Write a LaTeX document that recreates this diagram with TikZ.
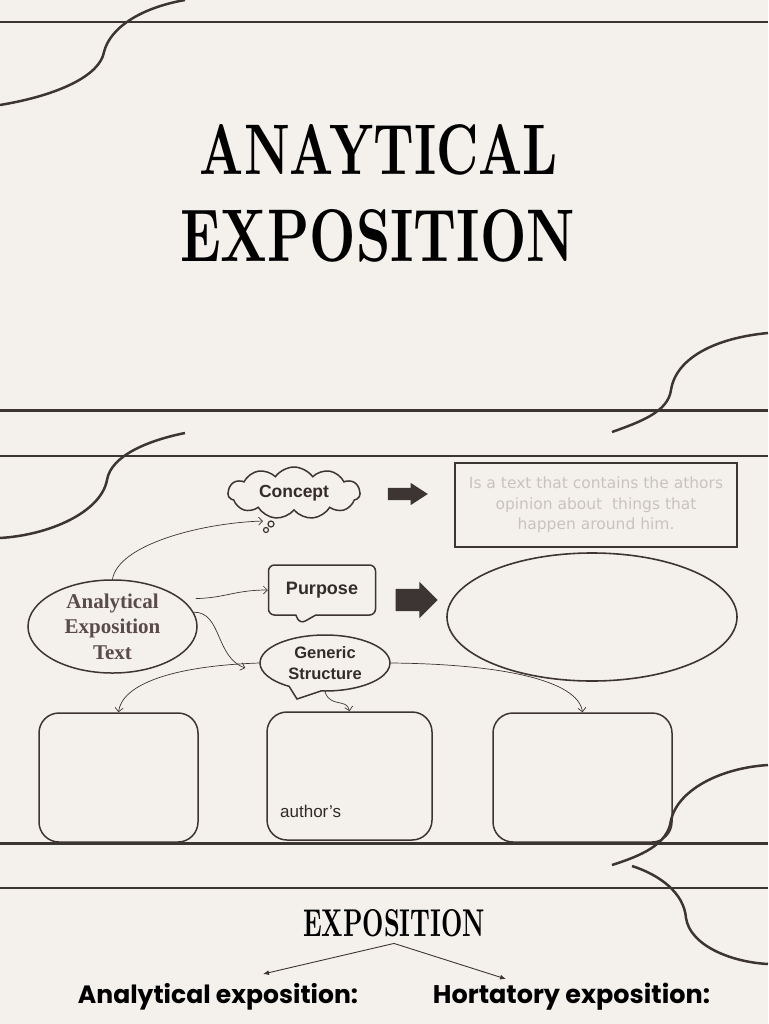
\documentclass[tikz,border=0pt]{standalone}
\usepackage{fontspec}
\usepackage{graphicx}
\usetikzlibrary{shapes.geometric,shapes.symbols,shapes.callouts,shapes.arrows,arrows.meta}
\newfontfamily\arialf{Liberation Sans}
\newfontfamily\timesf{Liberation Serif}
\newfontfamily\dejaf{DejaVu Sans}
\newfontfamily\popf{Poppins}
\definecolor{bg}{HTML}{F4F1EC}
\definecolor{ink}{HTML}{3D3434}
\definecolor{ghost}{HTML}{C9C3BD}
\definecolor{embossed}{HTML}{5A4B49}
\begin{document}
\begin{tikzpicture}[x=1pt,y=-1pt,
  rule/.style={ink,line width=2.2pt},
  thickrule/.style={ink,line width=3pt},
  deco/.style={ink,line width=2.5pt},
  conn/.style={ink,line width=0.7pt,-{Straight Barb[length=4pt,width=8pt]}},
  smallarr/.style={ink,line width=0.9pt,-{Latex[length=6pt,width=5pt]}},
  frame/.style={draw=ink,line width=1.5pt},
  bigarrow/.style={single arrow,fill=ink,draw=none},
  labelsans/.style={font=\arialf\bfseries\fontsize{16.5}{21}\selectfont,text=ink!85!black},
]
\fill[bg] (0,0) rectangle (768,1024);
\useasboundingbox (0,0) rectangle (768,1024);

% horizontal rules
\draw[rule] (0,22) -- (768,22);
\draw[thickrule] (0,410) -- (768,410);
\draw[rule] (0,456) -- (768,456);
\draw[thickrule] (0,843) -- (768,843);
\draw[rule] (0,888) -- (768,888);

% decorative curves
\draw[deco] (0,105) .. controls (60,95) and (100,75) .. (104,52) .. controls (110,28) and (140,8) .. (185,0);
\draw[deco] (612,432) .. controls (640,422) and (668,412) .. (671,390) .. controls (676,358) and (715,338) .. (768,333);
\draw[deco] (185,433) .. controls (150,440) and (111,455) .. (107,480) .. controls (101,512) and (50,535) .. (0,538);
\draw[deco] (612,865) .. controls (640,856) and (668,845) .. (671,820) .. controls (678,790) and (720,768) .. (768,765);
\draw[deco] (632,866) .. controls (660,875) and (684,893) .. (686,918) .. controls (690,945) and (730,962) .. (768,964);

% title
\node[inner sep=0pt] (t1) at (379,150) {\resizebox{358pt}{50pt}{\bfseries ANAYTICAL}};
\node[inner sep=0pt] (t2) at (377.5,236) {\resizebox{395pt}{52pt}{\bfseries EXPOSITION}};

% concept
\node[cloud, cloud puffs=11, cloud puff arc=110, aspect=2.6, draw=ink, line width=1.5pt,
      minimum width=132pt, minimum height=52pt, inner sep=0pt, labelsans, font=\arialf\bfseries\fontsize{17.5}{21}\selectfont] (concept) at (294,493) {Concept};
\draw[ink,line width=1.2pt] (271,524) circle (3pt);
\draw[ink,line width=1.2pt] (266,530) circle (2.5pt);
\coordinate (tail) at (263,521);
\node[bigarrow, minimum height=40pt, single arrow head extend=5pt, single arrow tip angle=66, inner sep=6pt] (arr1) at (403,494) {};
\node[draw=ink, line width=1.4pt, minimum width=282pt, minimum height=84pt, align=center,
      font=\dejaf\fontsize{15.5}{20.5}\selectfont, text=ghost] (def) at (596,505)
      {Is a text that contains the athors\\opinion about\ \ things that\\happen around him.};

% analytical exposition text
\node[ellipse, draw=ink, line width=1.5pt, minimum width=169pt, minimum height=83pt, align=center,
      inner sep=0pt, font=\timesf\bfseries\fontsize{21}{25.5}\selectfont, text=embossed] (aet) at (112.5,626.5)
      {Analytical\\Exposition\\Text};

% purpose
\node[rectangle callout, rounded corners=6pt, draw=ink, line width=1.5pt, minimum width=107pt, minimum height=50pt,
      callout absolute pointer={(300,624)}, callout pointer width=20pt, labelsans, font=\arialf\bfseries\fontsize{18}{20}\selectfont] (purpose) at (322,590) {Purpose};
\node[bigarrow, minimum height=42pt, single arrow head extend=7pt, single arrow tip angle=90, inner sep=11pt] (arr2) at (411,600) {};
\node[ellipse, draw=ink, line width=1.6pt, minimum width=290pt, minimum height=128pt] (pbox) at (592,617) {};

% generic structure
\node[ellipse callout, draw=ink, line width=1.5pt, minimum width=130pt, minimum height=56pt,
      callout absolute pointer={(297,699)}, callout pointer arc=30, align=center, inner sep=0pt, labelsans] (generic) at (325,663) {Generic\\Structure};

% boxes
\node[frame, rounded corners=20pt, minimum width=159pt, minimum height=129pt] (b1) at (118.5,777.5) {};
\node[frame, rounded corners=20pt, minimum width=165pt, minimum height=128pt] (b2) at (349.5,776) {};
\node[frame, rounded corners=20pt, minimum width=179pt, minimum height=129pt] (b3) at (582.5,777.5) {};
\node[anchor=base west, inner sep=0pt, font=\arialf\fontsize{17}{20}\selectfont, text=ink!80!black] (auth) at (280,817) {author’s};

% connectors
\draw[conn] (aet.north) .. controls (118,545) and (200,523) .. (tail);
\draw[conn] ([shift={(12pt,2pt)}]aet.20) .. controls (225,598) and (235,590) .. (purpose.west);
\draw[conn] (aet.10) .. controls (222,612) and (215,657) .. ([shift={(-14pt,-5pt)}]generic.west);
\draw[conn] (generic.west) .. controls (170,666) and (122,685) .. (b1.north);
\draw[conn] (generic.south) .. controls (330,708) and (347,698) .. (b2.north);
\draw[conn] (generic.east) .. controls (500,664) and (578,680) .. (b3.north);

% bottom
\node[inner sep=0pt] (expo) at (394,923.5) {\resizebox{182pt}{27pt}{\bfseries EXPOSITION}};
\coordinate (la) at (263,974);
\coordinate (lb) at (506,979);
\draw[smallarr] ([yshift=-6pt]expo.south) -- (la);
\draw[smallarr] ([yshift=-6pt]expo.south) -- (lb);
\node[inner sep=0pt, text=black] (ana) at (218,997) {\resizebox{280pt}{!}{\popf\bfseries Analytical exposition:}};
\node[inner sep=0pt, text=black] (hort) at (571.5,997) {\resizebox{277pt}{!}{\popf\bfseries Hortatory exposition:}};
\end{tikzpicture}
\end{document}
